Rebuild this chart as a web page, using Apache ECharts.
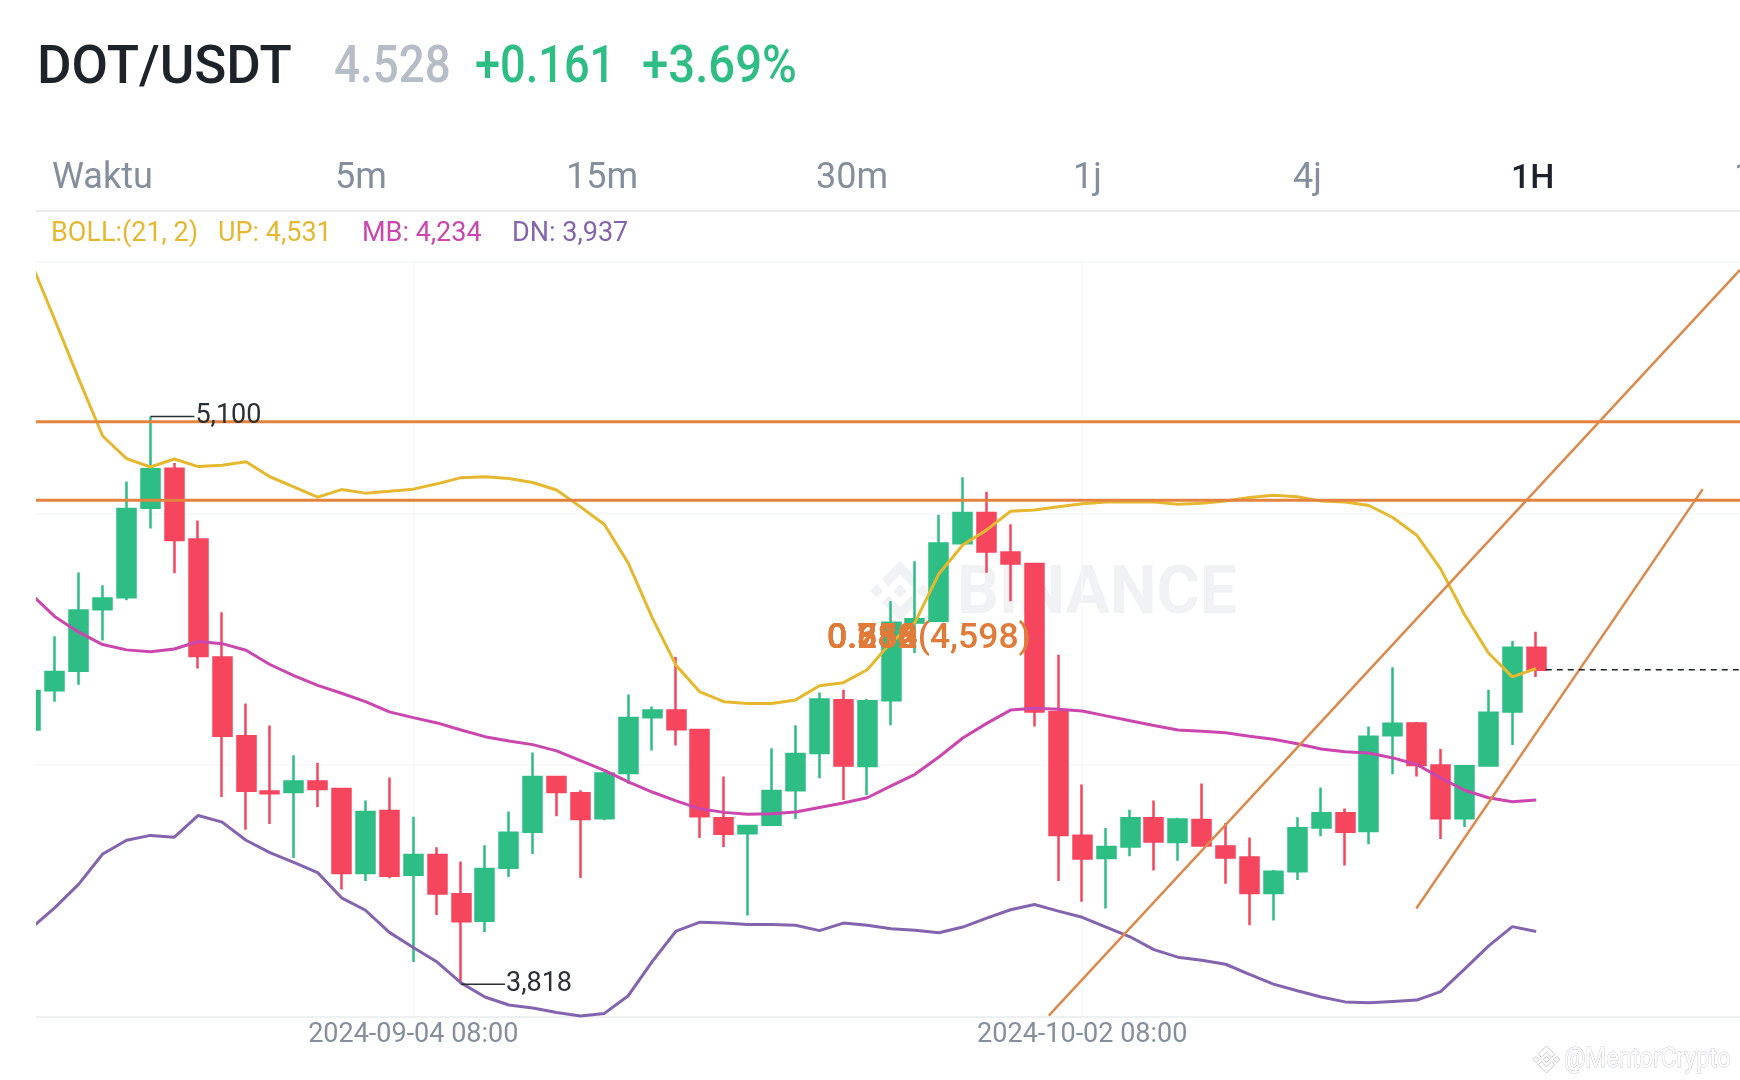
<!DOCTYPE html>
<html>
<head>
<meta charset="utf-8">
<title>DOT/USDT</title>
<script src="https://cdn.jsdelivr.net/npm/echarts@6/dist/echarts.min.js"></script>
<style>
  html, body { margin: 0; padding: 0; background: #fff; }
  #chart-container { width: 1740px; height: 1080px; }
</style>
</head>
<body>
<div id="chart-container"></div>
<script>
// daily candles, the first one is only a sliver at the left edge
var opens = [4.393,4.482,4.526,4.665,4.692,4.894,4.982,4.822,4.556,4.378,4.253,4.252,4.276,4.259,4.069,4.209,
  4.065,4.110,4.021,3.961,4.081,4.162,4.286,4.249,4.193,4.295,4.421,4.436,4.392,4.193,4.159,4.178,
  4.256,4.340,4.459,4.311,4.459,4.635,4.639,4.814,4.882,4.793,4.767,4.432,4.153,4.103,4.129,4.193,
  4.139,4.189,4.129,4.104,4.024,4.073,4.172,4.204,4.164,4.380,4.407,4.312,4.193,4.312,4.434,4.578];
var closes = [4.480,4.523,4.662,4.689,4.891,4.981,4.821,4.559,4.379,4.255,4.249,4.276,4.259,4.069,4.207,4.063,
  4.110,4.023,3.960,4.078,4.160,4.286,4.252,4.191,4.294,4.419,4.436,4.394,4.197,4.158,4.175,4.254,
  4.338,4.461,4.312,4.457,4.634,4.642,4.813,4.882,4.795,4.768,4.434,4.155,4.102,4.128,4.193,4.140,
  4.190,4.131,4.104,4.024,4.072,4.170,4.204,4.162,4.377,4.406,4.313,4.193,4.310,4.431,4.578,4.528];
var lows = [4.370,4.456,4.494,4.594,4.685,4.847,4.746,4.531,4.241,4.167,4.180,4.103,4.218,4.032,4.051,4.057,
  3.868,3.974,3.818,3.936,4.060,4.112,4.197,4.058,4.188,4.270,4.346,4.357,4.148,4.128,3.973,4.178,
  4.191,4.283,4.234,4.245,4.403,4.566,4.639,4.811,4.747,4.683,4.400,4.051,4.004,3.989,4.107,4.075,
  4.097,4.131,4.045,3.951,3.962,4.053,4.152,4.086,4.134,4.292,4.287,4.146,4.173,4.312,4.358,4.512];
var highs = [4.500,4.604,4.748,4.719,4.953,5.100,4.995,4.865,4.658,4.452,4.402,4.335,4.318,4.259,4.233,4.285,
  4.196,4.127,4.095,4.132,4.208,4.341,4.289,4.256,4.298,4.472,4.445,4.557,4.392,4.287,4.175,4.351,
  4.403,4.477,4.483,4.462,4.683,4.773,4.878,4.963,4.930,4.857,4.770,4.562,4.269,4.171,4.212,4.233,
  4.194,4.271,4.182,4.149,4.076,4.195,4.262,4.215,4.400,4.534,4.410,4.349,4.313,4.483,4.593,4.614];

var bollUp = [5.449,5.318,5.185,5.056,5.005,4.986,5.004,4.987,4.990,4.998,4.964,4.941,4.918,4.935,4.927,4.931,
  4.936,4.948,4.962,4.964,4.960,4.951,4.934,4.896,4.856,4.769,4.646,4.538,4.478,4.456,4.452,4.452,
  4.460,4.492,4.499,4.528,4.590,4.635,4.745,4.810,4.844,4.886,4.889,4.896,4.903,4.907,4.907,4.907,
  4.902,4.904,4.909,4.917,4.922,4.919,4.909,4.907,4.899,4.872,4.832,4.756,4.653,4.566,4.512,4.531];
var bollMid = [4.699,4.648,4.613,4.585,4.573,4.569,4.575,4.592,4.587,4.572,4.540,4.515,4.493,4.475,4.456,4.433,
  4.420,4.408,4.392,4.377,4.367,4.359,4.345,4.323,4.301,4.275,4.252,4.232,4.214,4.206,4.202,4.203,
  4.207,4.217,4.227,4.239,4.266,4.292,4.331,4.374,4.407,4.437,4.441,4.439,4.435,4.424,4.413,4.402,
  4.392,4.389,4.386,4.378,4.371,4.361,4.349,4.343,4.340,4.329,4.314,4.284,4.256,4.239,4.230,4.234];
var bollDn = [3.944,3.991,4.044,4.112,4.143,4.154,4.150,4.199,4.184,4.143,4.115,4.093,4.070,4.013,3.985,3.935,
  3.901,3.868,3.821,3.789,3.771,3.764,3.754,3.746,3.752,3.792,3.869,3.938,3.958,3.956,3.953,3.953,
  3.951,3.939,3.956,3.951,3.943,3.940,3.934,3.947,3.967,3.986,3.998,3.983,3.969,3.947,3.925,3.896,
  3.879,3.872,3.863,3.840,3.818,3.803,3.789,3.778,3.776,3.779,3.782,3.801,3.852,3.904,3.948,3.937];

// x is counted in days from 2024-09-04
var firstDay = -16;
var xMin = -15.79, xMax = 55.53;
var yMin = 3.745, yMax = 5.449;
var tickDays = [0, 28];
var tickLabels = ['2024-09-04 08:00', '2024-10-02 08:00'];

var levels = [5.088, 4.911];
var channelA = [[26.6, 3.747], [55.53, 5.431]];
var channelB = [[41.98, 3.989], [53.97, 4.936]];
var lastPrice = 4.528;
var highMark = { day: -11, value: 5.100, text: '5,100' };
var lowMark = { day: 2, value: 3.818, text: '3,818' };
var fibValue = 4.598;
var fibDay = 17.32;
// these labels sit on top of each other in the picture
var fibLabels = ['0.618(4,598)', '0.886', '0.750', '0.352', '0.254'];

var tabs = ['Waktu', '5m', '15m', '30m', '1j', '4j', '1H', '1'];
var tabX = [52, 335, 566, 816, 1073, 1293, 1511, 1734];

var GREEN = '#2EBD85', RED = '#F6465D', ORANGE = '#E3833F', TREND = '#DC8A4C';
var YELLOW = '#E6B830', PINK = '#CB46AE', PURPLE = '#8464AE';
var FONT = 'Roboto';
// exchange logo in a 24x24 box
var LOGO_PARTS = [
  [[7.35,10.08],[12,5.43],[16.65,10.08],[19.35,7.38],[12,0],[4.65,7.38]],
  [[0,12],[2.7,9.3],[5.4,12],[2.7,14.7]],
  [[7.35,13.92],[12,18.57],[16.65,13.92],[19.35,16.62],[12,24],[4.65,16.62]],
  [[18.6,12],[21.3,9.3],[24,12],[21.3,14.7]],
  [[14.74,12],[12,9.26],[9.26,12],[12,14.74]]
];

function dayOf(i) { return i + firstDay; }
function lineData(values) {
  return values.map(function (v, i) { return [dayOf(i), v]; });
}
function text(x, y, str, size, color, weight, scaleX) {
  return {
    type: 'text', x: x, y: y, z: -1, scaleX: scaleX || 1,
    style: { text: str, fontFamily: FONT, fontSize: size, fontWeight: weight || 400, fill: color, textVerticalAlign: 'middle' }
  };
}
function logo(x, y, size, style) {
  var k = size / 24;
  return LOGO_PARTS.map(function (part) {
    return {
      type: 'polygon', z: -1,
      shape: { points: part.map(function (p) { return [x + p[0] * k, y + p[1] * k]; }) },
      style: style
    };
  });
}
function plainLine(name, data, color, width, extra) {
  return Object.assign({
    name: name, type: 'line', data: data, symbol: 'none', silent: true,
    lineStyle: { color: color, width: width }
  }, extra || {});
}
function extremeLine(mark) {
  return plainLine('extreme', [
    [mark.day, mark.value],
    [mark.day + 1.84, mark.value]
  ], '#2B2F36', 1.5, {
    z: 6,
    endLabel: {
      show: true, distance: 1, offset: [0, 0], formatter: mark.text,
      fontFamily: FONT, fontSize: 27, color: '#2B2F36'
    }
  });
}

var dom = document.getElementById('chart-container');
var myChart = echarts.init(dom, null, { renderer: 'canvas' });

var candles = opens.map(function (o, i) {
  return [dayOf(i), o, closes[i], lows[i], highs[i]];
});

var watermark = text(1564, 1060, '@MentorCrypto', 28, '#fff', 400, 0.85);
watermark.style.stroke = '#C4C8CD';
watermark.style.lineWidth = 1;

var graphics = [
  text(37, 69, 'DOT/USDT', 54, '#1E2329', 500, 0.98),
  text(334, 69, '4.528', 52, '#B7BDC6', 500, 0.88),
  text(475, 69, '+0.161', 52, GREEN, 500, 0.868),
  text(642, 69, '+3.69%', 52, GREEN, 500, 0.91),
  text(51, 234, 'BOLL:(21, 2)', 27, YELLOW),
  text(218, 234, 'UP: 4,531', 27, YELLOW),
  text(362, 234, 'MB: 4,234', 27, PINK),
  text(512, 234, 'DN: 3,937', 27, PURPLE),
  {
    type: 'line', z: -1,
    shape: { x1: 36, y1: 211, x2: 1740, y2: 211 },
    style: { stroke: '#E9EBED', lineWidth: 2 }
  },
  text(957, 596, 'BINANCE', 66, '#F1F2F3', 700),
  watermark,
  // the first candle is cut off at the plot edge, candlesticks do not clip partially
  {
    type: 'rect', z: 100,
    shape: { x: 0, y: 240, width: 36, height: 778 },
    style: { fill: '#fff' }
  }
];
graphics = graphics.concat(
  logo(870, 561, 60, { fill: '#F1F2F3' }),
  logo(1533, 1046, 27, { fill: '#fff', stroke: '#C4C8CD', lineWidth: 1 })
);
tabs.forEach(function (t, i) {
  var active = t === '1H';
  graphics.push(text(tabX[i], 179, t, active ? 34 : 36, active ? '#1E2329' : '#848E9C', active ? 500 : 400));
});

var option = {
  animation: false,
  backgroundColor: '#fff',
  graphic: graphics,
  grid: { left: 36, right: 0, top: 262, bottom: 63.5 },
  xAxis: {
    type: 'value',
    min: xMin,
    max: xMax,
    axisLine: { onZero: false, lineStyle: { color: '#EEF0F2', width: 2 } },
    axisTick: { show: false, customValues: tickDays },
    axisLabel: {
      customValues: tickDays,
      margin: 5,
      fontFamily: FONT,
      fontSize: 27,
      color: '#848E9C',
      formatter: function (v) { return tickLabels[tickDays.indexOf(v)] || ''; }
    },
    splitLine: { show: true, lineStyle: { color: '#F6F7F8', width: 1.5 } }
  },
  yAxis: {
    type: 'value',
    min: yMin,
    max: yMax,
    interval: (yMax - yMin) / 3,
    axisLine: { show: false },
    axisTick: { show: false },
    axisLabel: { show: false },
    splitLine: { show: true, lineStyle: { color: '#F6F7F8', width: 1.5 } }
  },
  series: [
    {
      name: 'DOT/USDT',
      type: 'candlestick',
      data: candles,
      encode: { x: 0, y: [1, 2, 3, 4] },
      barWidth: 18.5,
      silent: true,
      z: 3,
      itemStyle: { color: GREEN, color0: RED, borderColor: GREEN, borderColor0: RED, borderWidth: 2.5 }
    },
    plainLine('UP', lineData(bollUp), YELLOW, 3, { z: 4 }),
    plainLine('MB', lineData(bollMid), PINK, 3, { z: 4 }),
    plainLine('DN', lineData(bollDn), PURPLE, 3, { z: 4 }),
    plainLine('level1', [[xMin, levels[0]], [xMax, levels[0]]], ORANGE, 3, { z: 5 }),
    plainLine('level2', [[xMin, levels[1]], [xMax, levels[1]]], ORANGE, 3, { z: 5 }),
    plainLine('channelA', channelA, TREND, 2.5, { z: 5 }),
    plainLine('channelB', channelB, TREND, 2.5, { z: 5 }),
    plainLine('last', [[47.4, lastPrice], [xMax, lastPrice]], '#1E2329', 1.5, {
      z: 5,
      lineStyle: { color: '#1E2329', width: 1.5, type: [6, 5] }
    }),
    extremeLine(highMark),
    extremeLine(lowMark),
    {
      name: 'fib',
      type: 'scatter',
      symbolSize: 0,
      silent: true,
      z: 7,
      data: fibLabels.map(function (t) { return { value: [fibDay, fibValue], name: t }; }),
      itemStyle: { opacity: 1 },
      label: {
        show: true,
        position: 'right',
        distance: 0,
        offset: [0, 2],
        formatter: '{b}',
        fontFamily: FONT,
        fontSize: 35.5,
        fontWeight: 500,
        color: '#E07B39',
        opacity: 1
      },
      labelLayout: { hideOverlap: false }
    }
  ]
};

myChart.setOption(option);
window.addEventListener('resize', myChart.resize);
</script>
</body>
</html>
